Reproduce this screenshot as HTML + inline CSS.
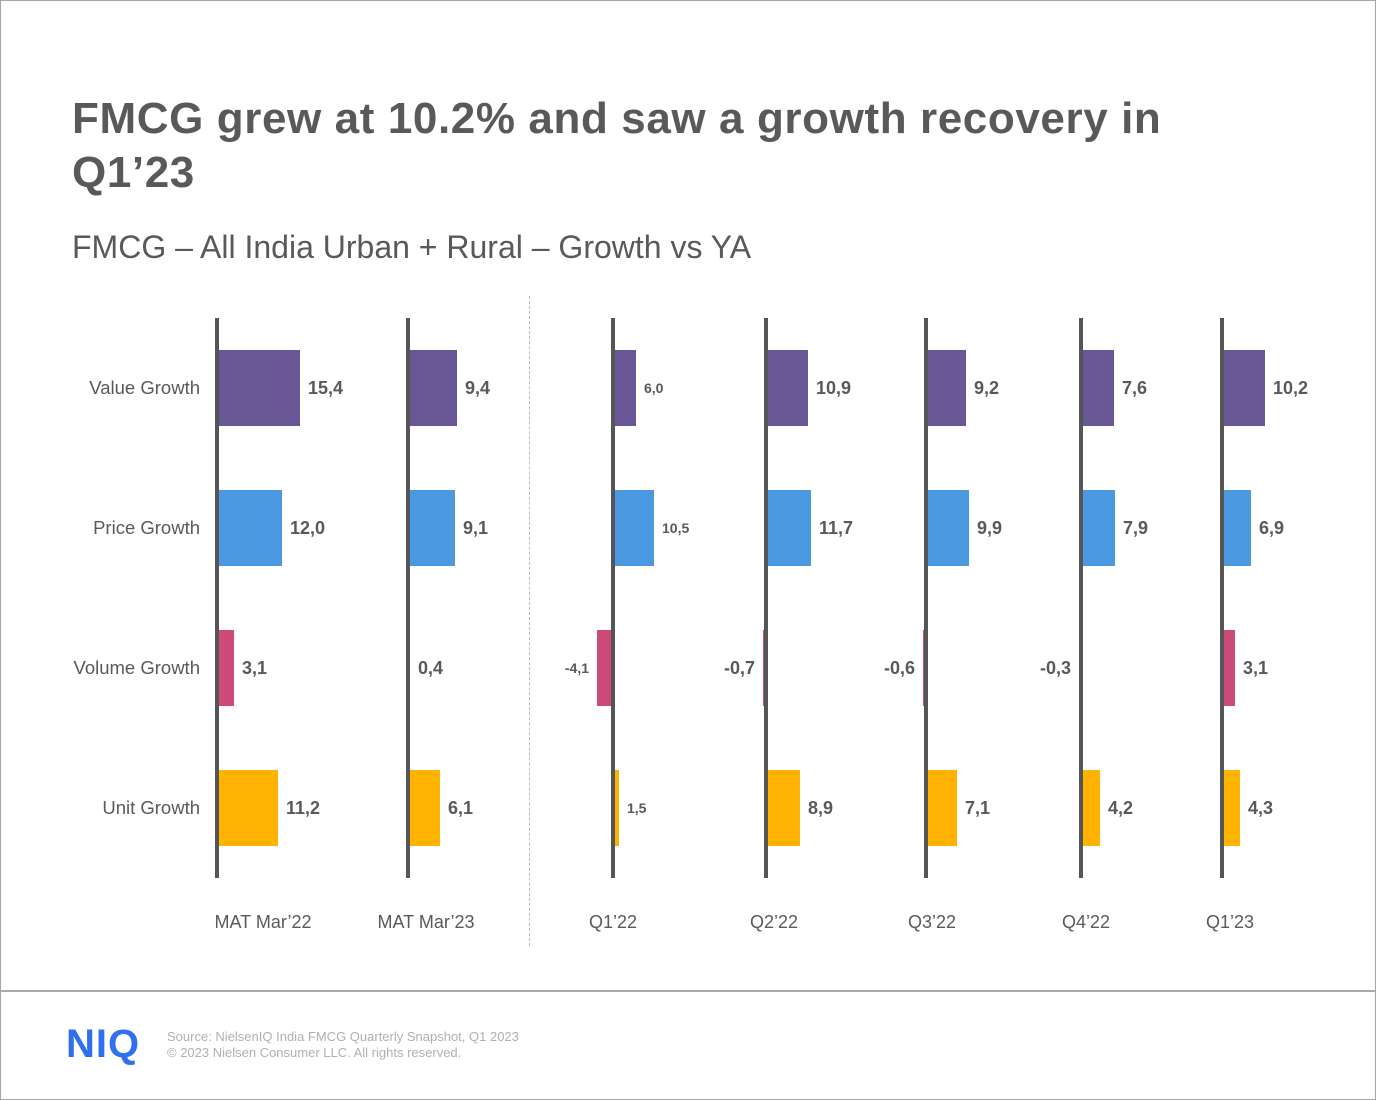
<!DOCTYPE html>
<html><head><meta charset="utf-8"><style>
body{margin:0;width:1376px;height:1100px;position:relative;font-family:"Liberation Sans",sans-serif;color:#595959;background:#fff;overflow:hidden}
.a{position:absolute}
.ax{position:absolute;top:318px;height:560px;width:4px;background:#555}
.b{position:absolute;height:76px}
.l{position:absolute;font-size:18px;font-weight:bold;line-height:20px}
.c{position:absolute;font-size:18.5px;right:1176px;text-align:right;line-height:20px;white-space:nowrap}
.x{position:absolute;top:912px;font-size:18px;width:160px;text-align:center;line-height:20px}
</style></head><body>
<div class="a" style="left:0;top:0;width:1374px;height:1098px;border:1px solid #a6a6a6"></div>
<div class="a" style="left:72px;top:92px;font-size:44px;font-weight:bold;line-height:54px;width:1130px;letter-spacing:0.6px">FMCG grew at 10.2% and saw a growth recovery in Q1’23</div>
<div class="a" style="left:72px;top:229px;font-size:32px;line-height:36px">FMCG – All India Urban + Rural – Growth vs YA</div>
<div class="a" style="left:529px;top:296px;height:650px;border-left:1px dashed #bbb"></div>
<div class="c" style="top:378px">Value Growth</div>
<div class="c" style="top:518px">Price Growth</div>
<div class="c" style="top:658px">Volume Growth</div>
<div class="c" style="top:798px">Unit Growth</div>
<div id="g"></div>
<div class="a" style="left:0;top:990px;width:1376px;height:2px;background:#aaa"></div>
<div class="a" style="left:66px;top:1022px;font-size:40px;font-weight:bold;color:#2f6ff0;letter-spacing:1px">NIQ</div>
<div class="a" style="left:167px;top:1029px;font-size:13px;color:#b0b0b0;line-height:16px">Source: NielsenIQ India FMCG Quarterly Snapshot, Q1 2023<br>© 2023 Nielsen Consumer LLC. All rights reserved.</div>
<script>
var cols=[
[217,"MAT Mar’22",[[300,"15,4"],[282,"12,0"],[234,"3,1"],[278,"11,2"]],18,263],
[408,"MAT Mar’23",[[457,"9,4"],[455,"9,1"],[410,"0,4"],[440,"6,1"]],18,426],
[613,"Q1’22",[[636,"6,0"],[654,"10,5"],[597,"-4,1"],[619,"1,5"]],14,613],
[766,"Q2’22",[[808,"10,9"],[811,"11,7"],[763,"-0,7"],[800,"8,9"]],18,774],
[926,"Q3’22",[[966,"9,2"],[969,"9,9"],[923,"-0,6"],[957,"7,1"]],18,932],
[1081,"Q4’22",[[1114,"7,6"],[1115,"7,9"],[1081,"-0,3"],[1100,"4,2"]],18,1086],
[1222,"Q1’23",[[1265,"10,2"],[1251,"6,9"],[1235,"3,1"],[1240,"4,3"]],18,1230]];
var colr=["#6a5896","#4a98e0","#cc4b7a","#ffb300"],h="";
cols.forEach(function(c){
 var x=c[0];h+='<div class="ax" style="left:'+(x-2)+'px"></div>';
 h+='<div class="x" style="left:'+(c[4]-80)+'px">'+c[1]+'</div>';
 c[2].forEach(function(d,i){var y=350+i*140,e=d[0],neg=d[1][0]=="-";
  var l=neg?e:x+2,w=neg?x-2-e:e-x-2; if(w<0)w=0;
  if(w>0)h+='<div class="b" style="left:'+l+'px;top:'+y+'px;width:'+w+'px;background:'+colr[i]+'"></div>';
  var fs=c[3];
  if(neg)h+='<div class="l" style="font-size:'+fs+'px;top:'+(y+28)+'px;right:'+(1376-Math.min(l,x-2)+8)+'px">'+d[1]+'</div>';
  else h+='<div class="l" style="font-size:'+fs+'px;top:'+(y+28)+'px;left:'+(Math.max(e,x+2)+8)+'px">'+d[1]+'</div>';
 });
});
document.getElementById("g").innerHTML=h;
</script>
</body></html>
